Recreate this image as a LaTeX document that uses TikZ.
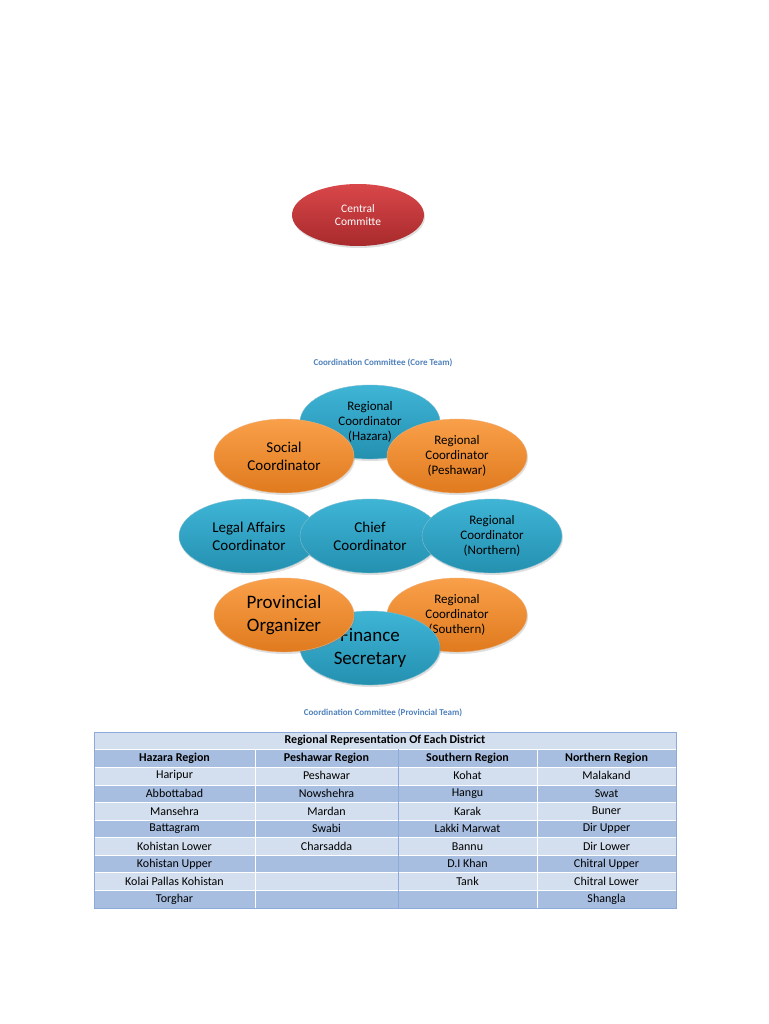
\documentclass[tikz,border=0pt]{standalone}
\usepackage{fontspec}
\setmainfont{Carlito}
\usetikzlibrary{shapes.geometric,shadows}
\definecolor{bl1}{HTML}{3FB5D6}\definecolor{bl2}{HTML}{2490B0}
\definecolor{or1}{HTML}{F9A04A}\definecolor{or2}{HTML}{E07A1E}
\definecolor{rd1}{HTML}{D9474A}\definecolor{rd2}{HTML}{A82A2C}
\definecolor{dk}{HTML}{A7BEE0}\definecolor{lt}{HTML}{D3DFEE}
\definecolor{cap}{HTML}{4F81BD}\definecolor{bd}{HTML}{8EAADB}
\tikzset{
 ell/.style={ellipse,minimum width=140pt,minimum height=74pt,inner sep=0pt,align=center,font=\fontsize{14}{16}\selectfont,
   drop shadow={shadow xshift=1pt,shadow yshift=-2pt,opacity=0.25}},
 blue/.style={ell,top color=bl1,bottom color=bl2,draw=bl2!60},
 orng/.style={ell,top color=or1,bottom color=or2,draw=or2!60},
 cell/.style={font=\fontsize{12}{13}\selectfont,inner sep=0pt},
 captxt/.style={text=cap,font=\fontsize{9}{10}\selectfont\bfseries}
}
\begin{document}
\begin{tikzpicture}[x=1pt,y=-1pt]
\useasboundingbox (0,0) rectangle (768,1024);
\fill[white] (0,0) rectangle (768,1024);
\node[ell,minimum width=132pt,minimum height=62pt,top color=rd1,bottom color=rd2,text=white,font=\fontsize{11.5}{13}\selectfont] (cc) at (358,215) {Central\\Committe};
\node[captxt] (c1) at (383,363) {Coordination Committee (Core Team)};
\node[blue,font=\fontsize{13}{15}\selectfont] (haz) at (370,422) {Regional\\Coordinator\\(Hazara)};
\node[orng,font=\fontsize{15}{18}\selectfont] (soc) at (284,456) {Social\\Coordinator};
\node[orng,font=\fontsize{13}{15}\selectfont] (pes) at (457,456) {Regional\\Coordinator\\(Peshawar)};
\node[blue,font=\fontsize{15}{18}\selectfont] (leg) at (249,536) {Legal Affairs\\Coordinator};
\node[blue,font=\fontsize{15}{18}\selectfont] (chf) at (370,536) {Chief\\Coordinator};
\node[blue,font=\fontsize{13}{15}\selectfont] (nor) at (492,536) {Regional\\Coordinator\\(Northern)};
\node[orng,font=\fontsize{13}{15}\selectfont] (sou) at (457,615) {Regional\\Coordinator\\(Southern)};
\node[blue,font=\fontsize{19}{23}\selectfont] (fin) at (370,648) {Finance\\Secretary};
\node[orng,font=\fontsize{19}{23}\selectfont] (pro) at (284,615) {Provincial\\Organizer};
\node[captxt] (c2) at (383,713) {Coordination Committee (Provincial Team)};
% table
\fill[lt] (94,732) rectangle (676,749);
\node[cell,font=\fontsize{12}{13}\selectfont\bfseries] (tt) at (385,740.5) {Regional Representation Of Each District};
\foreach \i/\ya/\yb/\c in {0/749/767/dk,1/767/785/lt,2/785/802/dk,3/802/820/lt,4/820/837/dk,5/837/855/lt,6/855/872/dk,7/872/890/lt,8/890/908/dk}{
  \fill[\c] (94,\ya) rectangle (676,\yb);
  \draw[white,line width=0.8pt] (94,\ya) -- (676,\ya);
}
\foreach \x in {255,537}{\draw[white,line width=1pt] (\x,749) -- (\x,908);}
\draw[bd,line width=1pt] (398,749) -- (398,908);
\draw[bd,line width=0.8pt] (94,732) rectangle (676,908);
\foreach \t/\xx [count=\k] in {Hazara Region/174.5,Peshawar Region/326.5,Southern Region/467.5,Northern Region/606.5}{
  \node[cell,font=\fontsize{12}{13}\selectfont\bfseries] (h\k) at (\xx,758) {\t};}
\foreach \a/\b/\c/\d [count=\r] in {Haripur/Peshawar/Kohat/Malakand,Abbottabad/Nowshehra/Hangu/Swat,Mansehra/Mardan/Karak/Buner,Battagram/Swabi/Lakki Marwat/Dir Upper,Kohistan Lower/Charsadda/Bannu/Dir Lower,Kohistan Upper//D.I Khan/Chitral Upper,Kolai Pallas Kohistan//Tank/Chitral Lower,Torghar///Shangla}{
  \pgfmathsetmacro\yy{767+(\r-0.5)*17.6}
  \node[cell] (a\r) at (174.5,\yy) {\a};
  \node[cell] (b\r) at (326.5,\yy) {\b};
  \node[cell] (c\r) at (467.5,\yy) {\c};
  \node[cell] (d\r) at (606.5,\yy) {\d};
}
\end{tikzpicture}
\end{document}
